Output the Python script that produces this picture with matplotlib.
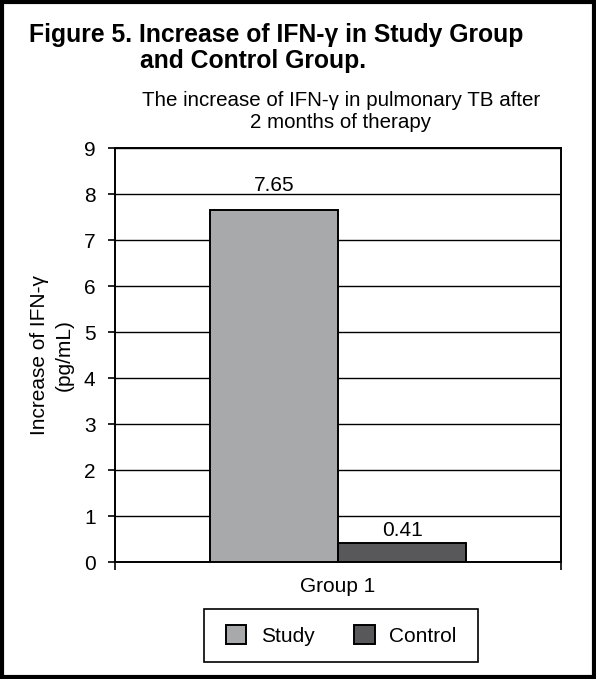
import matplotlib
matplotlib.use("Agg")
import matplotlib.pyplot as plt
from matplotlib.patches import Rectangle, Patch
import matplotlib.transforms as mtransforms

plt.rcParams['font.family'] = ['Liberation Sans', 'DejaVu Sans']

# ---- data ----
categories = ["Group 1"]
series_names = ["Study", "Control"]
study_values = [7.65]
control_values = [0.41]
value_labels = ["7.65", "0.41"]
yticks = [0, 1, 2, 3, 4, 5, 6, 7, 8, 9]

title_line1 = "Figure 5. Increase of IFN-γ in Study Group"
title_line2 = "and Control Group."
subtitle = "The increase of IFN-γ in pulmonary TB after\n2 months of therapy"
ylabel = "Increase of IFN-γ\n(pg/mL)"

colors = ["#a8a9ab", "#58585a"]

W, H = 596, 679
fig = plt.figure(figsize=(W / 100, H / 100), dpi=100)

def fx(x):
    return x / W

def fy(y):
    return 1 - y / H

ax = fig.add_axes([fx(115), fy(562), fx(561) - fx(115), fy(148) - fy(562)])

bw = 0.287
b1 = ax.bar([-bw / 2], study_values, width=bw, color=colors[0],
            edgecolor="black", linewidth=1.4, zorder=3, label=series_names[0])
b2 = ax.bar([bw / 2], control_values, width=bw, color=colors[1],
            edgecolor="black", linewidth=1.4, zorder=3, label=series_names[1])

offsets = [14, 5.5]
for bars, lab, off in zip([b1, b2], value_labels, offsets):
    r = bars[0]
    ax.annotate(lab, (r.get_x() + r.get_width() / 2, r.get_height()),
                xytext=(0, off), textcoords="offset points",
                ha="center", va="baseline", fontsize=15)

ax.set_xlim(-0.5, 0.5)
ax.set_ylim(0, 9)
ax.set_yticks(yticks)
ax.tick_params(axis="y", direction="out", length=5, width=1.2, labelsize=15, pad=9)
ax.yaxis.grid(True, color="black", linewidth=1.0, zorder=0)
ax.set_axisbelow(True)

ax.set_xticks([-0.5, 0.5])
ax.set_xticklabels(["", ""])
ax.tick_params(axis="x", which="major", direction="out", length=6, width=1.2)
ax.set_xticks([0], minor=True)
ax.set_xticklabels(categories, minor=True)
ax.tick_params(axis="x", which="minor", length=0, labelsize=15, pad=11)

for s in ax.spines.values():
    s.set_color("black")
    s.set_linewidth(1.4)

ax.set_ylabel(ylabel, fontsize=15, linespacing=1.4)
ax.yaxis.set_label_coords(fx(52), 0.5, transform=mtransforms.blended_transform_factory(fig.transFigure, ax.transAxes))
ax.yaxis.label.set_va("center")

# titles
fig.text(fx(29), fy(42), title_line1, fontsize=17.8, fontweight="bold", ha="left", va="baseline")
fig.text(fx(140), fy(68), title_line2, fontsize=17.8, fontweight="bold", ha="left", va="baseline")
fig.text(fx(341), fy(128), subtitle, fontsize=14.8, ha="center", va="baseline",
         multialignment="center", linespacing=1.17)

# legend
handles = [Patch(facecolor=colors[0], edgecolor="black", linewidth=1.4),
           Patch(facecolor=colors[1], edgecolor="black", linewidth=1.4)]
leg = fig.legend(handles, series_names, loc="center", bbox_to_anchor=(fx(341), fy(635.5)),
                 ncol=2, frameon=False, fontsize=15, handlelength=1.0, handleheight=1.0,
                 handletextpad=0.68, columnspacing=1.9)
fig.patches.append(Rectangle((fx(204), fy(662)), fx(478) - fx(204), fy(609) - fy(662),
                             transform=fig.transFigure, fill=False, edgecolor="black",
                             linewidth=1.2))

# outer border
fig.patches.append(Rectangle((fx(2), fy(677)), fx(594) - fx(2), fy(2) - fy(677),
                             transform=fig.transFigure, fill=False, edgecolor="black",
                             linewidth=3.0))

fig.savefig("out.png", dpi=100, facecolor="white")
